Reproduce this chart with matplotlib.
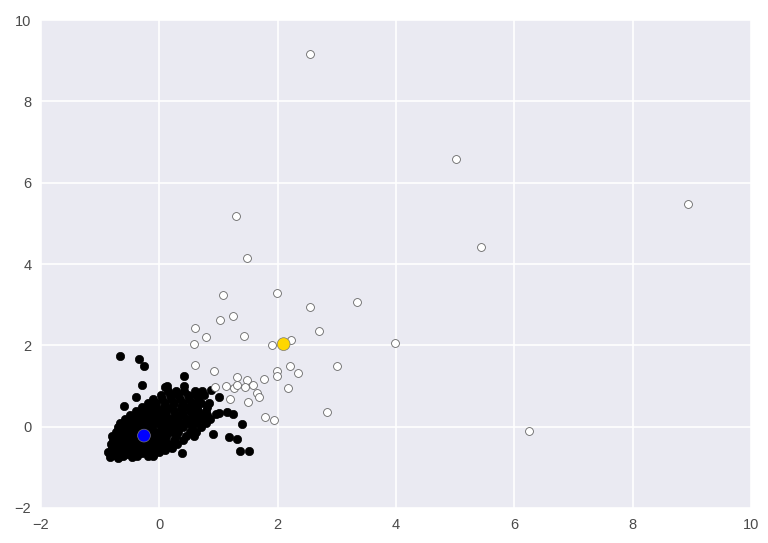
import numpy as np
import matplotlib
matplotlib.use("Agg")
import matplotlib.pyplot as plt

# cluster of low values (black), rows of the dense blob
black_rows = {
    -0.52: [-0.80, -0.70, -0.60, -0.50, -0.40, -0.30, -0.18, -0.05, 0.08, 0.22],
    -0.42: [-0.82, -0.72, -0.62, -0.52, -0.42, -0.32, -0.20, -0.10, 0.02, 0.15, 0.30],
    -0.32: [-0.78, -0.68, -0.58, -0.48, -0.38, -0.28, -0.15, -0.02, 0.10, 0.25, 0.40],
    -0.22: [-0.80, -0.70, -0.60, -0.50, -0.40, -0.12, 0.00, 0.12, 0.28, 0.45, 0.58],
    -0.12: [-0.74, -0.64, -0.54, -0.44, -0.32, -0.20, -0.08, 0.05, 0.18, 0.32, 0.52, 0.62],
    -0.02: [-0.70, -0.60, -0.48, -0.36, -0.24, -0.12, 0.02, 0.15, 0.28, 0.40, 0.55, 0.70],
    0.08: [-0.66, -0.55, -0.42, -0.30, -0.18, -0.05, 0.08, 0.22, 0.35, 0.48, 0.62, 0.78],
    0.18: [-0.58, -0.45, -0.32, -0.20, -0.08, 0.05, 0.18, 0.30, 0.45, 0.58, 0.72, 0.86],
    0.28: [-0.50, -0.38, -0.25, -0.12, 0.00, 0.12, 0.26, 0.40, 0.55, 0.68, 0.80],
    0.38: [-0.40, -0.28, -0.15, -0.02, 0.12, 0.25, 0.38, 0.52, 0.65, 0.78],
    0.48: [-0.30, -0.18, -0.05, 0.08, 0.22, 0.36, 0.50, 0.64, 0.80],
    0.58: [-0.20, -0.06, 0.10, 0.25, 0.40, 0.55, 0.70, 0.84],
    0.68: [-0.10, 0.05, 0.20, 0.35, 0.50, 0.66],
    0.78: [0.02, 0.18, 0.32, 0.48, 0.62, 0.76],
    0.88: [0.15, 0.28, 0.42, 0.60, 0.72],
}
black_extra_x = [-0.84, -0.78, -0.70, -0.62, -0.55, -0.46, -0.38, -0.30, -0.20, -0.10, 0.00, 0.10,
                 -0.86, -0.75, -0.66, -0.56, -0.45, -0.35, -0.24, -0.12, 0.02, 0.14,
                 -0.66, -0.34, -0.26, -0.29, 0.41, 0.09, -0.59, -0.40, 1.01, 0.95, 0.90,
                 1.18, 1.31, 1.37, 1.51, 1.40, 1.25, 1.14, 0.38, -0.10, 0.13, 0.42, 0.87, 1.01]
black_extra_y = [-0.74, -0.70, -0.77, -0.72, -0.68, -0.75, -0.71, -0.66, -0.73, -0.70, -0.62, -0.58,
                 -0.62, -0.60, -0.64, -0.61, -0.63, -0.60, -0.62, -0.60, -0.56, -0.50,
                 1.75, 1.66, 1.48, 1.02, 1.25, 0.98, 0.50, 0.73, 0.74, 0.30, -0.19,
                 -0.26, -0.30, -0.59, -0.59, 0.07, 0.31, 0.37, -0.64, -0.72, 0.99, 0.99, 0.90, 0.33]

# cluster of high values (white)
white_x = [1.29, 1.48, 1.08, 1.99, 2.54, 3.34, 1.25, 1.02, 0.60, 0.78, 1.43, 2.70,
           0.59, 1.90, 2.22, 3.99, 0.60, 0.92, 2.21, 2.35, 3.01, 1.99, 1.99, 1.32,
           1.48, 1.77, 0.94, 1.13, 1.26, 1.32, 1.44, 1.59, 1.65, 1.69, 1.20, 1.50,
           2.17, 2.83, 1.78, 1.94, 2.54, 5.02, 5.44, 8.93, 6.25]
white_y = [5.18, 4.16, 3.24, 3.28, 2.94, 3.06, 2.73, 2.62, 2.42, 2.20, 2.22, 2.36,
           2.04, 2.00, 2.13, 2.07, 1.51, 1.36, 1.50, 1.33, 1.48, 1.37, 1.25, 1.22,
           1.14, 1.17, 0.97, 0.99, 0.94, 1.03, 0.98, 1.03, 0.83, 0.73, 0.68, 0.60,
           0.95, 0.37, 0.24, 0.17, 9.17, 6.58, 4.43, 5.48, -0.10]

centroid_x = [-0.26, 2.10]
centroid_y = [-0.22, 2.03]
centroid_colors = ["#0000ff", "#ffd700"]

bx = []
by = []
for yv, xs in black_rows.items():
    bx += xs
    by += [yv] * len(xs)
bx += black_extra_x
by += black_extra_y

fig = plt.figure(figsize=(7.68, 5.43), dpi=100)
ax = fig.add_axes([0.0534, 0.0645, 0.9246, 0.8985])
ax.set_facecolor("#eaeaf2")
for s in ax.spines.values():
    s.set_visible(False)
ax.grid(True, color="white", linewidth=1.2)
ax.set_axisbelow(True)

ax.scatter(bx, by, s=36, c="black", edgecolors="black", linewidths=0.5, zorder=3)
ax.scatter(white_x, white_y, s=32, c="white", edgecolors="#666666", linewidths=0.6, zorder=3)
ax.scatter(centroid_x, centroid_y, s=85, c=centroid_colors, edgecolors="#777777",
           linewidths=0.5, zorder=4)

ax.set_xlim(-2, 10)
ax.set_ylim(-2, 10)
ax.set_xticks(np.arange(-2, 11, 2))
ax.set_yticks(np.arange(-2, 11, 2))
ax.tick_params(length=0, pad=7, labelsize=10.5, labelcolor="#4a4a4a")
for lab in ax.get_xticklabels() + ax.get_yticklabels():
    lab.set_family(["Liberation Sans", "DejaVu Sans"])

fig.savefig("out.png", dpi=100)
